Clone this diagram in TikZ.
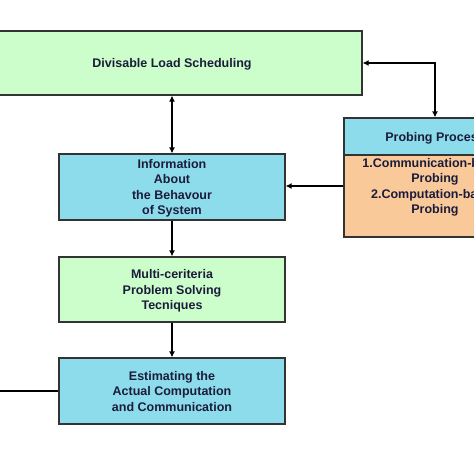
\documentclass[tikz,border=0pt]{standalone}
\usepackage{fontspec}
\setmainfont{Liberation Sans}
\usetikzlibrary{arrows.meta}
\definecolor{boxgreen}{HTML}{CCFECC}
\definecolor{boxcyan}{HTML}{8CDCEC}
\definecolor{boxorange}{HTML}{F9C99A}
\definecolor{boxline}{HTML}{333333}
\definecolor{txt}{HTML}{1C1C3A}
\tikzset{
  box/.style={draw=boxline, line width=1.2pt, rectangle, inner sep=0pt,
    align=center, text=txt, text depth=-0.5pt, font=\bfseries\fontsize{12.5}{15.5}\selectfont},
  conn/.style={draw=black, line width=2pt, -{Latex[length=6pt,width=6pt]}},
  bconn/.style={draw=black, line width=2pt, {Latex[length=6pt,width=6pt]}-{Latex[length=6pt,width=6pt]}},
  plain/.style={draw=black, line width=2pt},
  btxt/.style={align=center, text=txt, inner sep=0pt, font=\bfseries\fontsize{12.5}{15.5}\selectfont}
}
\begin{document}
\begin{tikzpicture}[x=1pt,y=-1pt]
\useasboundingbox (0,0) rectangle (474,474);
\fill[white] (0,0) rectangle (474,474);
\clip (0,0) rectangle (474,474);
\node[box, fill=boxgreen, minimum width=380pt, minimum height=64pt] (top) at (172,63) {Divisable Load Scheduling};
\node[box, fill=boxcyan, minimum width=226pt, minimum height=66pt] (info) at (172,187) {Information\\About\\the Behavour\\of System};
\node[box, fill=boxgreen, minimum width=226pt, minimum height=65pt] (multi) at (172,289.5) {Multi-ceriteria\\Problem Solving\\Tecniques};
\node[box, fill=boxcyan, minimum width=226pt, minimum height=66pt] (est) at (172,391) {Estimating the\\Actual Computation\\and Communication};
\node[box, fill=boxorange, minimum width=182pt, minimum height=82pt] (probebody) at (435,196) {};
\node[box, fill=boxcyan, minimum width=182pt, minimum height=37pt] (probehead) at (435,136.5) {Probing Process};
\node[btxt, anchor=north] (probetext) at (435,158) {1.Communication-based\\Probing\\2.Computation-based\\Probing};
\coordinate (leftend) at (0,391);
\coordinate (pin) at ([yshift=1pt]info.east);
\draw[bconn] (top.south) -- (info.north);
\draw[bconn] (top.east) -| (probehead.north);
\draw[conn] (probebody.west |- pin) -- (pin);
\draw[conn] (info.south) -- (multi.north);
\draw[conn] (multi.south) -- (est.north);
\draw[plain] (est.west) -- (leftend);
\end{tikzpicture}
\end{document}
